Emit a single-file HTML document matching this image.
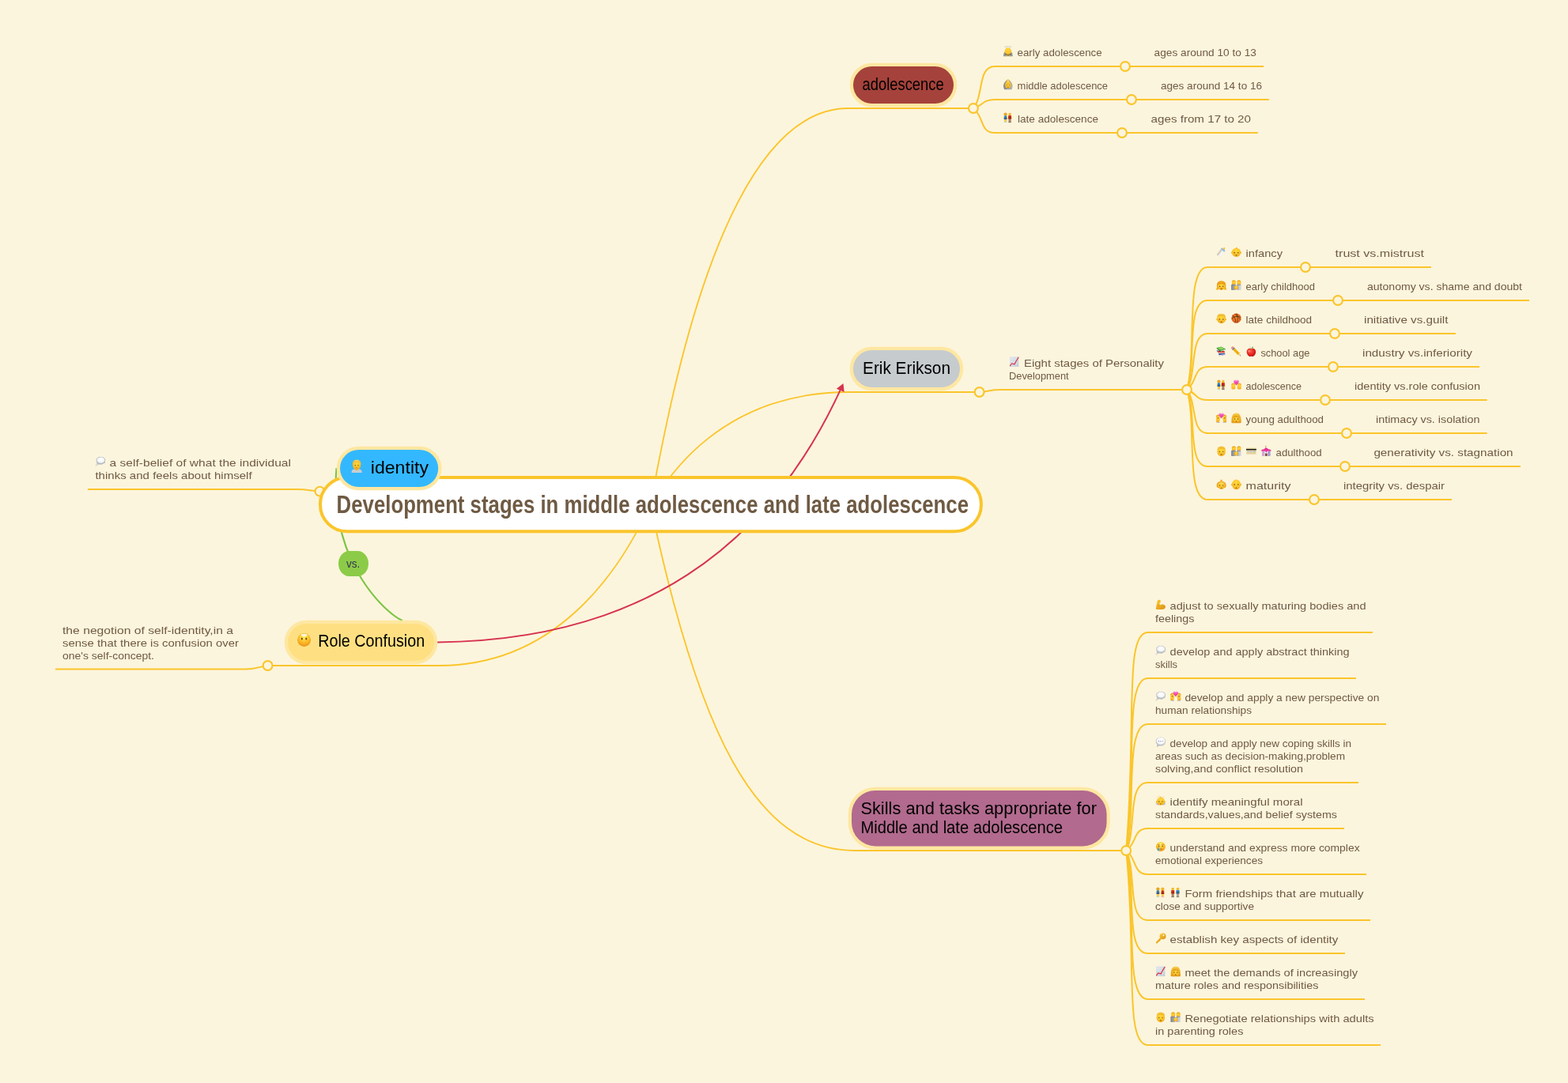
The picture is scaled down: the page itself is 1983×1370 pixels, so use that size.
<!DOCTYPE html>
<html lang="en">
<head>
<meta charset="utf-8">
<title>Development stages in middle adolescence and late adolescence</title>
<style>
html,body{margin:0;padding:0;background:#FCF5DD;}
body{width:1983px;height:1370px;overflow:hidden;}
svg{display:block;will-change:transform;}
text{font-family:"Liberation Sans",sans-serif;white-space:pre;}
.st{font-size:13px;fill:#705A43;}
.mt{font-size:22px;fill:#000;}
.ct{font-size:32px;font-weight:bold;fill:#6F5A43;}
.vs{font-size:14.5px;fill:#34344e;}
</style>
</head>
<body>
<svg width="1983" height="1370" viewBox="0 0 1983 1370" role="img" aria-label="Mind map: Development stages in middle adolescence and late adolescence">
<defs>
<radialGradient id="gf" cx="0.5" cy="0.32" r="0.75"><stop offset="0" stop-color="#FFDA3A"/><stop offset="0.55" stop-color="#FCC42A"/><stop offset="1" stop-color="#EFA41C"/></radialGradient>
<radialGradient id="gs" cx="0.5" cy="0.25" r="0.8"><stop offset="0" stop-color="#FFF06A"/><stop offset="0.5" stop-color="#FCC22B"/><stop offset="1" stop-color="#EE8F1B"/></radialGradient>
<linearGradient id="gh" x1="0" y1="0" x2="0" y2="1"><stop offset="0" stop-color="#F7C53A"/><stop offset="1" stop-color="#E39A1A"/></linearGradient>
<linearGradient id="gd" x1="0" y1="0" x2="1" y2="0"><stop offset="0" stop-color="#7E848B"/><stop offset="1" stop-color="#B4B8BC"/></linearGradient>
<linearGradient id="gl" x1="0" y1="0" x2="1" y2="0"><stop offset="0" stop-color="#A9AEB3"/><stop offset="1" stop-color="#E1E3E5"/></linearGradient>
<linearGradient id="gb" x1="0" y1="0" x2="0" y2="1"><stop offset="0" stop-color="#2A9BE8"/><stop offset="1" stop-color="#1B4FA6"/></linearGradient>
<linearGradient id="gr" x1="0" y1="0" x2="0" y2="1"><stop offset="0" stop-color="#E23A24"/><stop offset="1" stop-color="#8E1A1A"/></linearGradient>
<linearGradient id="gp" x1="0" y1="0" x2="0" y2="1"><stop offset="0" stop-color="#F9A8E0"/><stop offset="0.45" stop-color="#F04DB6"/><stop offset="1" stop-color="#E638A4"/></linearGradient>
<radialGradient id="ga" cx="0.4" cy="0.35" r="0.7"><stop offset="0" stop-color="#FF5A48"/><stop offset="0.6" stop-color="#E4241E"/><stop offset="1" stop-color="#B01218"/></radialGradient>
<radialGradient id="go" cx="0.55" cy="0.45" r="0.6"><stop offset="0" stop-color="#F98E30"/><stop offset="1" stop-color="#DD5A16"/></radialGradient>
<radialGradient id="gw" cx="0.5" cy="0.4" r="0.6"><stop offset="0" stop-color="#FFFFFF"/><stop offset="0.7" stop-color="#F4F5F6"/><stop offset="1" stop-color="#B9BEC4"/></radialGradient>
<linearGradient id="gk" x1="0" y1="0" x2="1" y2="1"><stop offset="0" stop-color="#FDCB2C"/><stop offset="1" stop-color="#D9901A"/></linearGradient>
<linearGradient id="gc" x1="0" y1="0" x2="1" y2="1"><stop offset="0" stop-color="#DCE6EF"/><stop offset="1" stop-color="#BFCBD6"/></linearGradient>
</defs>
<rect width="1983" height="1370" fill="#FCF5DD"/>
<g id="main-branches">
<path d="M822.5 638C841.1 548.4 906 137 1072.9 137" fill="none" stroke="#FAC52B" stroke-width="1.8"/>
<path d="M1072 137H1231" fill="none" stroke="#FAC52B" stroke-width="2"/>
<path d="M822.5 638C818.4 659.2 876.4 496 1073.6 496" fill="none" stroke="#FAC52B" stroke-width="1.8"/>
<path d="M1073 496H1239" fill="none" stroke="#FAC52B" stroke-width="2"/>
<path d="M822.5 638C881.9 920.7 954.1 1076 1080.8 1076" fill="none" stroke="#FAC52B" stroke-width="1.8"/>
<path d="M1080 1076H1424" fill="none" stroke="#FAC52B" stroke-width="2"/>
<path d="M822.5 638C782.9 725.4 702.4 842 555 842" fill="none" stroke="#FAC52B" stroke-width="1.8"/>
<path d="M556 842H339" fill="none" stroke="#FAC52B" stroke-width="2"/>
</g>
<g id="sub-branches">
<path d="M1230.9 137C1244.25 121.36 1236.11 84 1258 84H1598" fill="none" stroke="#FAC52B" stroke-width="2"/>
<path d="M1230.9 137C1244.25 133.75 1241.51 126 1258 126H1604.8" fill="none" stroke="#FAC52B" stroke-width="2"/>
<path d="M1230.9 137C1244.25 146.15 1238.93 168 1258 168H1590.8" fill="none" stroke="#FAC52B" stroke-width="2"/>
<path d="M1501 493C1513.96 447.27 1498.03 338 1527.3 338H1810" fill="none" stroke="#FAC52B" stroke-width="2"/>
<path d="M1501 493C1513.96 459.66 1498.57 380 1527.3 380H1934" fill="none" stroke="#FAC52B" stroke-width="2"/>
<path d="M1501 493C1513.96 472.06 1503.81 422 1527.3 422H1841" fill="none" stroke="#FAC52B" stroke-width="2"/>
<path d="M1501 493C1513.96 484.44 1509.05 464 1527.3 464H1871" fill="none" stroke="#FAC52B" stroke-width="2"/>
<path d="M1501 493C1513.96 496.83 1511.04 506 1527.3 506H1880.6" fill="none" stroke="#FAC52B" stroke-width="2"/>
<path d="M1501 493C1513.96 509.23 1505.8 548 1527.3 548H1880.6" fill="none" stroke="#FAC52B" stroke-width="2"/>
<path d="M1501 493C1513.96 521.62 1500.56 590 1527.3 590H1923" fill="none" stroke="#FAC52B" stroke-width="2"/>
<path d="M1501 493C1513.96 534 1498.03 632 1527.3 632H1836" fill="none" stroke="#FAC52B" stroke-width="2"/>
<path d="M1424.2 1076C1437.65 917.3 1421.12 800 1451.5 800H1736" fill="none" stroke="#FAC52B" stroke-width="2"/>
<path d="M1424.2 1076C1437.65 975.3 1421.12 858 1451.5 858H1715" fill="none" stroke="#FAC52B" stroke-width="2"/>
<path d="M1424.2 1076C1437.65 1028.8 1421.12 916 1451.5 916H1753" fill="none" stroke="#FAC52B" stroke-width="2"/>
<path d="M1424.2 1076C1437.65 1050.63 1425.17 990 1451.5 990H1718" fill="none" stroke="#FAC52B" stroke-width="2"/>
<path d="M1424.2 1076C1437.65 1067.74 1432.68 1048 1451.5 1048H1700" fill="none" stroke="#FAC52B" stroke-width="2"/>
<path d="M1424.2 1076C1437.65 1084.85 1432.42 1106 1451.5 1106H1728" fill="none" stroke="#FAC52B" stroke-width="2"/>
<path d="M1424.2 1076C1437.65 1101.96 1424.91 1164 1451.5 1164H1733" fill="none" stroke="#FAC52B" stroke-width="2"/>
<path d="M1424.2 1076C1437.65 1114.35 1421.12 1206 1451.5 1206H1701" fill="none" stroke="#FAC52B" stroke-width="2"/>
<path d="M1424.2 1076C1437.65 1146.7 1421.12 1264 1451.5 1264H1726" fill="none" stroke="#FAC52B" stroke-width="2"/>
<path d="M1424.2 1076C1437.65 1204.7 1421.12 1322 1451.5 1322H1746" fill="none" stroke="#FAC52B" stroke-width="2"/>
<path d="M1238.6 496C1252.1 495.12 1250.36 493 1266 493H1501" fill="none" stroke="#FAC52B" stroke-width="2"/>
<path d="M404.4 621.6C389.92 620.83 391.72 619 375 619H111" fill="none" stroke="#FAC52B" stroke-width="2"/>
<path d="M338.6 842C324.51 843.36 326.54 846.6 310 846.6H70" fill="none" stroke="#FAC52B" stroke-width="2"/>
</g>
<g id="relationships">
<path d="M425.5 592C415.7 715.1 492.3 778.7 509 785" fill="none" stroke="#7CC444" stroke-width="2.1"/>
<path d="M553 812.4C808 810.23 970.47 694.53 1063.15 492.4" fill="none" stroke="#D7334F" stroke-width="2"/>
<path d="M1066.5 485L1057.9 491.8L1067.7 496.1Z" fill="#D7334F"/>
</g>
<g id="joints">
<circle cx="1230.9" cy="137" r="5.9" fill="#FCF5DD" stroke="#FAC52B" stroke-width="2.1"/>
<circle cx="1238.6" cy="496" r="5.9" fill="#FCF5DD" stroke="#FAC52B" stroke-width="2.1"/>
<circle cx="1501" cy="493" r="5.9" fill="#FCF5DD" stroke="#FAC52B" stroke-width="2.1"/>
<circle cx="1424.2" cy="1076" r="5.9" fill="#FCF5DD" stroke="#FAC52B" stroke-width="2.1"/>
<circle cx="338.6" cy="842" r="5.9" fill="#FCF5DD" stroke="#FAC52B" stroke-width="2.1"/>
<circle cx="404.4" cy="621.6" r="5.9" fill="#FCF5DD" stroke="#FAC52B" stroke-width="2.1"/>
</g>
<g id="topics">
<g transform="translate(1268.4 58.3) scale(1.07)"><path d="M3.1 1.7L2.6 0.3M5 1.2L4.8 -0.2M7 1.2L7.2 -0.2M8.9 1.7L9.4 0.3" stroke="#A9AEB3" stroke-width="0.6" stroke-linecap="round"/><path d="M0.5 12 Q0.7 7.2 2.8 6.8 L9.2 6.8 Q11.3 7.2 11.5 12Z" fill="#8F969D"/><path d="M2.6 9.6 Q6 12.4 9.4 9.6 L8.6 8.6 H3.4Z" fill="#2b2b2b"/><ellipse cx="6" cy="6.2" rx="3.9" ry="4.2" fill="url(#gf)"/><path d="M3.4 12 Q3.6 10.4 5 10.6 L5.4 12Z M8.6 12 Q8.4 10.4 7 10.6 L6.6 12Z" fill="#F6BE2C"/></g>
<text class="st" x="1286.6" y="71.2" textLength="107" lengthAdjust="spacingAndGlyphs">early adolescence</text>
<circle cx="1423" cy="84" r="5.9" fill="#FCF5DD" stroke="#FAC52B" stroke-width="2.1"/>
<text class="st" x="1459.6" y="71.2" textLength="129.4" lengthAdjust="spacingAndGlyphs">ages around 10 to 13</text>
<g transform="translate(1268.4 100.3) scale(1.07)"><path d="M1.6 12 Q-0.6 7 2 3.6 Q4 0.6 6 0.4 Q8 0.6 10 3.6 Q12.6 7 10.4 12Z" fill="url(#gd)"/><path d="M4.2 3.6 Q4 0.2 6 0.2 Q8 0.2 7.8 3.6Z" fill="#F2B428"/><circle cx="6" cy="2.3" r="0.9" fill="#FBF0D0"/><ellipse cx="6" cy="6.8" rx="3.5" ry="4" fill="url(#gf)"/><path d="M2.8 5.8 Q6 3.4 9.2 5.8 Q6 5 2.8 5.8Z" fill="#DFA024"/><circle cx="4.7" cy="6.9" r="0.5" fill="#5E4426"/><circle cx="7.3" cy="6.9" r="0.5" fill="#5E4426"/><path d="M5.2 9.4 Q6 8.299999999999999 6.8 9.4 Q6 9.75 5.2 9.4Z" fill="#5A3A12"/></g>
<text class="st" x="1286.6" y="113.2" textLength="114.4" lengthAdjust="spacingAndGlyphs">middle adolescence</text>
<circle cx="1431" cy="126" r="5.9" fill="#FCF5DD" stroke="#FAC52B" stroke-width="2.1"/>
<text class="st" x="1468" y="113.2" textLength="128" lengthAdjust="spacingAndGlyphs">ages around 14 to 16</text>
<g transform="translate(1268.4 142.3) scale(1.07)"><path d="M1.6 4.2 L1.0 7.4 M4.4 4.2 L5.0 7.4" stroke="#F7C132" stroke-width="0.9" stroke-linecap="round" fill="none"/><rect x="1.55" y="7.4" width="2.9" height="4" fill="#F6C84A"/><rect x="1.35" y="11.2" width="3.3" height="0.75" fill="#A9D6EC"/><path d="M1.8 3.5 H4.2 L4.7 8.2 H1.3Z" fill="url(#gb)"/><ellipse cx="3.0" cy="2.1" rx="2" ry="1.9" fill="#E9A526"/><path d="M6.7 4.2 L6.1 7.4 M9.5 4.2 L10.1 7.4" stroke="#F7C132" stroke-width="0.9" stroke-linecap="round" fill="none"/><rect x="6.65" y="7.4" width="2.9" height="4" fill="#A88466"/><rect x="6.45" y="11.2" width="3.3" height="0.75" fill="#6E5A4E"/><rect x="6.3" y="3.4" width="3.6" height="4.3" rx="0.5" fill="url(#gr)"/><ellipse cx="8.1" cy="2" rx="1.65" ry="1.65" fill="#F2B826"/></g>
<text class="st" x="1287" y="155.2" textLength="102" lengthAdjust="spacingAndGlyphs">late adolescence</text>
<circle cx="1419" cy="168" r="5.9" fill="#FCF5DD" stroke="#FAC52B" stroke-width="2.1"/>
<text class="st" x="1455.6" y="155.2" textLength="126.4" lengthAdjust="spacingAndGlyphs">ages from 17 to 20</text>
<g transform="translate(1538.2 312.3) scale(1.07)"><g transform="rotate(38 6 6)"><rect x="3.4" y="3.6" width="5.2" height="8.6" rx="1.3" fill="#E9EAEC"/><rect x="3.4" y="3.6" width="2" height="8.6" rx="1" fill="#D8CDB4"/><rect x="6.8" y="4.4" width="1.4" height="7" rx="0.7" fill="#FAFAFA"/><rect x="3.2" y="1.8" width="5.6" height="2.1" rx="0.7" fill="#8FBBE4"/><path d="M4.6 1.9 Q4.8 0 6 -0.9 Q7.2 0 7.4 1.9Z" fill="#F6BE36"/></g></g>
<g transform="translate(1557.1 312.3) scale(1.07)"><circle cx="0.9" cy="6.9" r="1.05" fill="#F5B428"/><circle cx="11.1" cy="6.9" r="1.05" fill="#F5B428"/><circle cx="6" cy="6.6" r="5.3" fill="url(#gf)"/><path d="M5.2 1.6 Q6.4 -0.3 7.4 1 Q6.6 1.1 6.6 2Z" fill="#F2AE22"/><circle cx="3.9" cy="6.9" r="0.72" fill="#5E4426"/><circle cx="8.1" cy="6.9" r="0.72" fill="#5E4426"/><path d="M4.7 10.049999999999999 Q5.95 8.399999999999999 7.2 10.049999999999999 Q5.95 10.575 4.7 10.049999999999999Z" fill="#5A3A12"/></g>
<text class="st" x="1575.6" y="325.2" textLength="46.4" lengthAdjust="spacingAndGlyphs">infancy</text>
<circle cx="1651" cy="338" r="5.9" fill="#FCF5DD" stroke="#FAC52B" stroke-width="2.1"/>
<text class="st" x="1688.6" y="325.2" textLength="112.4" lengthAdjust="spacingAndGlyphs">trust vs.mistrust</text>
<g transform="translate(1538.2 354.3) scale(1.07)"><path d="M0.6 7.4 Q0 1 6 0.8 Q12 1 11.4 7.4 Q11.4 9 10.6 9.6 L1.4 9.6 Q0.6 9 0.6 7.4Z" fill="#EDA21C"/><circle cx="1.3" cy="10.4" r="1.35" fill="#F2B122"/><circle cx="10.7" cy="10.4" r="1.35" fill="#F2B122"/><circle cx="6" cy="7.3" r="4.5" fill="url(#gf)"/><path d="M1.6 6 Q3 2.2 6 3.2 Q9 2.2 10.4 6 Q8.4 4.4 6 4.6 Q3.6 4.4 1.6 6Z" fill="#E59A1A"/><circle cx="4.1" cy="7.4" r="0.7" fill="#5E4426"/><circle cx="7.9" cy="7.4" r="0.7" fill="#5E4426"/><path d="M4.7 10.32 Q6 8.780000000000001 7.3 10.32 Q6 10.81 4.7 10.32Z" fill="#5A3A12"/></g>
<g transform="translate(1557.1 354.3) scale(1.07)"><rect x="0" y="5.1" width="5.5" height="6.7" rx="0.6" fill="url(#gd)"/><rect x="6.6" y="5.1" width="5.4" height="6.7" rx="0.6" fill="url(#gl)"/><path d="M0.8 5.1 H5 V5.8 H0.8Z M7 5.1 H11.2 V5.8 H7Z" fill="#5D6670"/><rect x="0.8" y="0.3" width="4.5" height="4.9" rx="1.6" fill="url(#gf)"/><rect x="6.9" y="0.3" width="4.5" height="4.9" rx="1.6" fill="url(#gf)"/><path d="M0.9 1.8 Q1 0.2 3 0.2 Q5.2 0.2 5.2 1.8 Q3 1 0.9 1.8Z M7 1.8 Q7 0.2 9.2 0.2 Q11.3 0.2 11.3 1.8 Q9.2 1 7 1.8Z" fill="#E7A322"/><circle cx="5.9" cy="8.8" r="2.35" fill="#E9A41E"/><circle cx="5.9" cy="8.9" r="1.9" fill="url(#gf)"/></g>
<text class="st" x="1575.6" y="367.2" textLength="87.4" lengthAdjust="spacingAndGlyphs">early childhood</text>
<circle cx="1692" cy="380" r="5.9" fill="#FCF5DD" stroke="#FAC52B" stroke-width="2.1"/>
<text class="st" x="1729" y="367.2" textLength="196" lengthAdjust="spacingAndGlyphs">autonomy vs. shame and doubt</text>
<g transform="translate(1538.2 396.3) scale(1.07)"><circle cx="0.9" cy="7.2" r="1" fill="#F5B428"/><circle cx="11.1" cy="7.2" r="1" fill="#F5B428"/><ellipse cx="6" cy="6.7" rx="5.2" ry="5.4" fill="url(#gf)"/><path d="M0.9 6.2 Q0.4 0.6 6 0.5 Q11.6 0.6 11.1 6.2 Q10.4 3.8 8.6 3.4 Q6 4.4 3 3.2 Q1.4 4 0.9 6.2Z" fill="#F3BC30"/><path d="M3 1.4 Q6 0 9 1.4 Q6 0.9 3 1.4Z" fill="#FBE08A"/><circle cx="3.9" cy="7.1" r="0.72" fill="#5E4426"/><circle cx="8.1" cy="7.1" r="0.72" fill="#5E4426"/><path d="M4.75 10.25 Q6 8.600000000000001 7.25 10.25 Q6 10.775 4.75 10.25Z" fill="#5A3A12"/></g>
<g transform="translate(1557.1 396.3) scale(1.07)"><circle cx="6" cy="5.9" r="5.7" fill="url(#go)"/><path d="M1.4 2.6 Q6.4 5.4 4.6 11.4 M4.6 0.4 Q9 4.6 7 11.5 M0.4 6.6 Q5 2 11.4 4.6 M6.4 0.3 Q7 4.4 11.2 7.8" stroke="#2A1A10" stroke-width="0.55" fill="none"/></g>
<text class="st" x="1575.6" y="409.2" textLength="83.4" lengthAdjust="spacingAndGlyphs">late childhood</text>
<circle cx="1688" cy="422" r="5.9" fill="#FCF5DD" stroke="#FAC52B" stroke-width="2.1"/>
<text class="st" x="1725" y="409.2" textLength="106.4" lengthAdjust="spacingAndGlyphs">initiative vs.guilt</text>
<g transform="translate(1538.2 438.3) scale(1.07)"><path d="M2.6 8.2 L10.2 7.6 L10.4 10 L3.6 11.2Z" fill="#3C4FA0"/><path d="M3.6 9.9 L10.3 9 L10.4 10 L3.6 11.2Z" fill="#E4E8EE"/><path d="M1.6 4.8 L9.8 5.6 L10 8 L2.2 7.8Z" fill="#D9211E"/><path d="M2.2 7 L10 7.2 L10 8 L2.2 7.8Z" fill="#F0F0EC"/><path d="M0.4 4.4 Q0.2 5.8 1.8 6.4 L2 5Z" fill="#2F5FB8"/><path d="M0.4 1.6 L5.6 0.3 L10.8 2.8 L5.4 5.2Z" fill="#45A83C"/><path d="M1.4 1.7 L5.6 0.6 L9.6 2.6 L5.6 4Z" fill="#8FD65E"/><path d="M0.4 1.6 L5.4 5.2 L10.8 2.8 L10.6 4 L5.4 6.4 L0.6 2.8Z" fill="#2E7D32"/><path d="M5.6 5.4 L10.4 3.3 L10.4 3.9 L5.6 6Z" fill="#EDEDE8"/></g>
<g transform="translate(1557.1 438.3) scale(1.07)"><g transform="rotate(-45 6 6)"><rect x="4.3" y="-1.6" width="3.4" height="2.3" rx="1.2" fill="#EE8796"/><rect x="4.3" y="0.6" width="3.4" height="1.5" fill="#7E96B2"/><rect x="4.3" y="1.1" width="3.4" height="0.5" fill="#4A4A4A"/><rect x="4.3" y="2.1" width="3.4" height="8.2" fill="#F7BC1E"/><rect x="5.4" y="2.1" width="1.2" height="8.2" fill="#E9A314"/><path d="M4.3 10.3 H7.7 L6 13.6Z" fill="#F1D9A8"/><path d="M5.4 12.4 H6.6 L6 13.6Z" fill="#6A6A6A"/></g></g>
<g transform="translate(1576 438.3) scale(1.07)"><path d="M6 2.9 Q3.2 1.5 1.5 3.6 Q-0.2 6 1.4 9.4 Q2.8 12.2 4.4 11.9 Q6 11.4 7.6 11.9 Q9.2 12.2 10.6 9.4 Q12.2 6 10.5 3.6 Q8.8 1.5 6 2.9Z" fill="url(#ga)"/><ellipse cx="3.4" cy="5.4" rx="1.1" ry="1.5" fill="#FF9C92" opacity="0.75"/><path d="M5.8 3 Q5.4 1.4 4.2 0.7" stroke="#9A7A52" stroke-width="0.6" fill="none"/><path d="M5.9 2.9 Q6.4 0.6 8.6 0 Q8.6 2.2 5.9 2.9Z" fill="#58B23C"/></g>
<text class="st" x="1594.4" y="451.2" textLength="62" lengthAdjust="spacingAndGlyphs">school age</text>
<circle cx="1686" cy="464" r="5.9" fill="#FCF5DD" stroke="#FAC52B" stroke-width="2.1"/>
<text class="st" x="1723" y="451.2" textLength="139" lengthAdjust="spacingAndGlyphs">industry vs.inferiority</text>
<g transform="translate(1538.2 480.3) scale(1.07)"><path d="M1.6 4.2 L1.0 7.4 M4.4 4.2 L5.0 7.4" stroke="#F7C132" stroke-width="0.9" stroke-linecap="round" fill="none"/><rect x="1.55" y="7.4" width="2.9" height="4" fill="#F6C84A"/><rect x="1.35" y="11.2" width="3.3" height="0.75" fill="#A9D6EC"/><path d="M1.8 3.5 H4.2 L4.7 8.2 H1.3Z" fill="url(#gb)"/><ellipse cx="3.0" cy="2.1" rx="2" ry="1.9" fill="#E9A526"/><path d="M6.7 4.2 L6.1 7.4 M9.5 4.2 L10.1 7.4" stroke="#F7C132" stroke-width="0.9" stroke-linecap="round" fill="none"/><rect x="6.65" y="7.4" width="2.9" height="4" fill="#A88466"/><rect x="6.45" y="11.2" width="3.3" height="0.75" fill="#6E5A4E"/><rect x="6.3" y="3.4" width="3.6" height="4.3" rx="0.5" fill="url(#gr)"/><ellipse cx="8.1" cy="2" rx="1.65" ry="1.65" fill="#F2B826"/></g>
<g transform="translate(1557.1 480.3) scale(1.07)"><rect x="0.3" y="4.2" width="4.4" height="7.3" rx="1.5" fill="url(#gf)"/><rect x="7.3" y="4.2" width="4.4" height="7.3" rx="1.5" fill="url(#gf)"/><path d="M0.4 5.4 Q2.4 4 4.6 5.2 M7.4 5.2 Q9.6 4 11.6 5.4" stroke="#D9901A" stroke-width="0.6" fill="none"/><path d="M0.8 2.4 Q1 3.2 1.6 3.6 M11.2 2.4 Q11 3.2 10.4 3.6" stroke="#F8E3A6" stroke-width="0.5" fill="none"/><path d="M6 6.8 L3.2 3.5 Q2.1 0.6 4.4 0.1 Q5.6 0 6 1.2 Q6.4 0 7.6 0.1 Q9.9 0.6 8.8 3.5Z" fill="url(#gp)"/></g>
<text class="st" x="1575.6" y="493.2" textLength="70.4" lengthAdjust="spacingAndGlyphs">adolescence</text>
<circle cx="1676" cy="506" r="5.9" fill="#FCF5DD" stroke="#FAC52B" stroke-width="2.1"/>
<text class="st" x="1713" y="493.2" textLength="159" lengthAdjust="spacingAndGlyphs">identity vs.role confusion</text>
<g transform="translate(1538.2 522.3) scale(1.07)"><path d="M0 11.9 Q0.2 10.2 2.4 10.2 L5 11.9Z M12 11.9 Q11.8 10.2 9.6 10.2 L7 11.9Z" fill="#BFC3C6"/><path d="M0 3.4 Q1.4 1.8 3.6 2.6 L4.4 6.4 L3.6 10.6 Q1.4 11.2 0 10.6Z" fill="url(#gf)"/><path d="M12 3.4 Q10.6 1.8 8.4 2.6 L7.6 6.4 L8.4 10.6 Q10.6 11.2 12 10.6Z" fill="url(#gf)"/><path d="M0 3.6 Q1.6 1 4 2.6 Q2 3 0 4.8Z M12 3.6 Q10.4 1 8 2.6 Q10 3 12 4.8Z" fill="#E79E1C"/><ellipse cx="2.1" cy="6" rx="0.8" ry="0.55" fill="#4A3418"/><ellipse cx="9.9" cy="6" rx="0.8" ry="0.55" fill="#4A3418"/><path d="M6 6.6 L3.3 3.4 Q2.2 0.6 4.4 0.1 Q5.6 0 6 1.2 Q6.4 0 7.6 0.1 Q9.8 0.6 8.7 3.4Z" fill="url(#gp)"/></g>
<g transform="translate(1557.1 522.3) scale(1.07)"><path d="M0.3 11.8 Q-0.3 0.4 6 0.3 Q12.3 0.4 11.7 11.8 Q9 12.2 6 12 Q3 12.2 0.3 11.8Z" fill="url(#gh)"/><path d="M3.2 1.6 Q6 0.3 8.8 1.6 Q6 1 3.2 1.6Z" fill="#FBE7A6"/><circle cx="6" cy="7.5" r="3.9" fill="url(#gf)"/><path d="M2.2 6.4 Q3 3 6.4 3.6 Q9.2 3.4 9.9 6.4 Q8 4.6 5.6 5 Q3.6 5 2.2 6.4Z" fill="#E59A1A"/><circle cx="4.2" cy="7.2" r="0.62" fill="#5E4426"/><circle cx="7.9" cy="7.2" r="0.62" fill="#5E4426"/><path d="M4.95 10.26 Q6 8.940000000000001 7.05 10.26 Q6 10.68 4.95 10.26Z" fill="#5A3A12"/></g>
<text class="st" x="1575.6" y="535.2" textLength="98.4" lengthAdjust="spacingAndGlyphs">young adulthood</text>
<circle cx="1703" cy="548" r="5.9" fill="#FCF5DD" stroke="#FAC52B" stroke-width="2.1"/>
<text class="st" x="1740" y="535.2" textLength="131.4" lengthAdjust="spacingAndGlyphs">intimacy vs. isolation</text>
<g transform="translate(1538.2 564.3) scale(1.07)"><ellipse cx="6" cy="6.6" rx="4.9" ry="5.5" fill="url(#gf)"/><path d="M1.2 5.6 Q0.8 0.4 6 0.3 Q11.2 0.4 10.8 5.6 Q10 3.4 8.4 3.2 Q5.6 3.8 3.2 2.8 Q1.8 3.6 1.2 5.6Z" fill="#F3BC30"/><path d="M3.2 1.2 Q6 0 8.8 1.2 Q6 0.8 3.2 1.2Z" fill="#FBE08A"/><circle cx="4" cy="6.6" r="0.66" fill="#5E4426"/><circle cx="8" cy="6.6" r="0.66" fill="#5E4426"/><path d="M4.7 10.059999999999999 Q6 8.739999999999998 7.3 10.059999999999999 Q6 10.479999999999999 4.7 10.059999999999999Z" fill="#5A3A12"/></g>
<g transform="translate(1557.1 564.3) scale(1.07)"><rect x="0" y="5.1" width="5.5" height="6.7" rx="0.6" fill="url(#gd)"/><rect x="6.6" y="5.1" width="5.4" height="6.7" rx="0.6" fill="url(#gl)"/><path d="M0.8 5.1 H5 V5.8 H0.8Z M7 5.1 H11.2 V5.8 H7Z" fill="#5D6670"/><rect x="0.8" y="0.3" width="4.5" height="4.9" rx="1.6" fill="url(#gf)"/><rect x="6.9" y="0.3" width="4.5" height="4.9" rx="1.6" fill="url(#gf)"/><path d="M0.9 1.8 Q1 0.2 3 0.2 Q5.2 0.2 5.2 1.8 Q3 1 0.9 1.8Z M7 1.8 Q7 0.2 9.2 0.2 Q11.3 0.2 11.3 1.8 Q9.2 1 7 1.8Z" fill="#E7A322"/><circle cx="5.9" cy="8.8" r="2.35" fill="#E9A41E"/><circle cx="5.9" cy="8.9" r="1.9" fill="url(#gf)"/></g>
<g transform="translate(1576 564.3) scale(1.07)"><rect x="0" y="2" width="12" height="7.9" rx="0.9" fill="#EFE2B0"/><rect x="0" y="2" width="12" height="1.2" rx="0.6" fill="#F6E9A8"/><rect x="0" y="3.3" width="12" height="1.5" fill="#161616"/><rect x="1" y="6" width="7" height="0.9" fill="#A9B6D0"/><rect x="8.6" y="6" width="2.4" height="0.9" fill="#8E9AB8"/><rect x="0.6" y="7.6" width="10.8" height="1.6" fill="#E4CFA0"/></g>
<g transform="translate(1594.9 564.3) scale(1.07)"><rect x="0.9" y="5.4" width="10.2" height="6.4" fill="#EDEDF2"/><rect x="1.1" y="5.6" width="1.2" height="6.2" fill="#E68AC8"/><rect x="2.7" y="5.6" width="1" height="6.2" fill="#A58AD6"/><rect x="8.2" y="5.6" width="1" height="6.2" fill="#5E7AB8"/><rect x="9.6" y="5.6" width="1.3" height="6.2" fill="#B58AD6"/><path d="M0 5.8 Q0.4 3.6 3.4 3.6 L5.2 2 L6.8 2 L8.6 3.6 Q11.6 3.6 12 5.8Z" fill="#EA2F98"/><path d="M6 7.6 L4.4 5.6 Q4 4.2 5.2 4.2 Q5.8 4.2 6 4.9 Q6.2 4.2 6.8 4.2 Q8 4.2 7.6 5.6Z" fill="#F0389E"/><rect x="4.7" y="8.6" width="2.6" height="3.2" fill="#8A4A32"/><path d="M5.2 2.2 V-0.4" stroke="#8A6A4A" stroke-width="0.4"/><path d="M5.2 -0.4 L6.8 0.1 L5.2 0.7Z" fill="#E8903A"/></g>
<text class="st" x="1613.6" y="577.2" textLength="58" lengthAdjust="spacingAndGlyphs">adulthood</text>
<circle cx="1701" cy="590" r="5.9" fill="#FCF5DD" stroke="#FAC52B" stroke-width="2.1"/>
<text class="st" x="1737.4" y="577.2" textLength="176.2" lengthAdjust="spacingAndGlyphs">generativity vs. stagnation</text>
<g transform="translate(1538.2 606.3) scale(1.07)"><path d="M0.4 8 Q0 2.6 6 2.6 Q12 2.6 11.6 8 Q11.4 9.6 10.4 10 L1.6 10 Q0.6 9.6 0.4 8Z" fill="#E9A31E"/><path d="M4.2 1.6 Q6 -0.6 7.8 1.6 Q6.8 1.7 6.6 2.8 H5.4 Q5.2 1.7 4.2 1.6Z" fill="#F2B428"/><circle cx="6" cy="7.5" r="4.3" fill="url(#gf)"/><path d="M1.8 6.4 Q3.4 3.4 6 3.8 Q8.6 3.4 10.2 6.4 Q8.2 5 6 5.2 Q3.8 5 1.8 6.4Z" fill="#F7D36A"/><circle cx="4.1" cy="7.3" r="0.62" fill="#5E4426"/><circle cx="7.9" cy="7.3" r="0.62" fill="#5E4426"/><circle cx="4.1" cy="7.3" r="1.15" fill="none" stroke="#C9A64A" stroke-width="0.3"/><circle cx="7.9" cy="7.3" r="1.15" fill="none" stroke="#C9A64A" stroke-width="0.3"/><path d="M4.75 10.36 Q6 9.04 7.25 10.36 Q6 10.78 4.75 10.36Z" fill="#5A3A12"/></g>
<g transform="translate(1557.1 606.3) scale(1.07)"><ellipse cx="0.9" cy="6.4" rx="0.8" ry="1.2" fill="#F0AE24"/><ellipse cx="11.1" cy="6.4" rx="0.8" ry="1.2" fill="#F0AE24"/><ellipse cx="6" cy="6.2" rx="5.1" ry="5.9" fill="url(#gf)"/><path d="M3.4 1.4 Q6 0.2 8.6 1.4 Q6 0.9 3.4 1.4Z" fill="#FCE38E"/><circle cx="3.9" cy="6.2" r="0.72" fill="#5E4426"/><circle cx="8.1" cy="6.2" r="0.72" fill="#5E4426"/><path d="M5.0 10.26 Q6 8.940000000000001 7.0 10.26 Q6 10.68 5.0 10.26Z" fill="#5A3A12"/></g>
<text class="st" x="1575.6" y="619.2" textLength="57" lengthAdjust="spacingAndGlyphs">maturity</text>
<circle cx="1662" cy="632" r="5.9" fill="#FCF5DD" stroke="#FAC52B" stroke-width="2.1"/>
<text class="st" x="1699" y="619.2" textLength="128" lengthAdjust="spacingAndGlyphs">integrity vs. despair</text>
<g transform="translate(1461.5 758.3) scale(1.07)"><path d="M0.4 11.6 Q0.2 8.6 1.2 6 L2.2 1.4 Q3.4 -0.2 5.4 0.6 Q6.2 1.6 5.6 3.4 L4.6 4 L5 6.6 Q8 5.2 10.4 6.4 Q12.4 8 11.2 10.4 Q9 12.2 5.4 11.8 Q2.4 12.2 0.4 11.6Z" fill="url(#gk)"/><path d="M3 6.2 Q3.6 8 3 9.4" stroke="#D58E18" stroke-width="0.5" fill="none"/><path d="M4.8 4 L6.4 5.2" stroke="#FDF0CE" stroke-width="0.7"/></g>
<text class="st" x="1479.6" y="771.2" textLength="248" lengthAdjust="spacingAndGlyphs">adjust to sexually maturing bodies and</text>
<text class="st" x="1461" y="787.2" textLength="49.4" lengthAdjust="spacingAndGlyphs">feelings</text>
<g transform="translate(1461.5 816.3) scale(1.07)"><circle cx="0.7" cy="10.6" r="0.7" fill="#BFC4CA"/><circle cx="2.4" cy="9" r="1.3" fill="#C9CED3"/><path d="M1 5.2 Q0 2.6 2.6 1.8 Q3.6 -0.2 6 0.7 Q8.4 -0.4 9.8 1.6 Q12.4 2.6 11.4 5.4 Q12 8.2 9.2 8.6 Q7.4 10.4 5.4 9.2 Q2.6 10 1.8 7.8 Q0.4 6.8 1 5.2Z" fill="#B4BAC1"/><path d="M1.6 4.8 Q0.8 2.8 3 2.2 Q4 0.4 6.1 1.2 Q8.2 0.2 9.4 2 Q11.6 2.8 10.8 5 Q11.2 7.2 9 7.6 Q7.4 9 5.6 8 Q3.2 8.6 2.4 6.8 Q1.2 6 1.6 4.8Z" fill="url(#gw)"/></g>
<text class="st" x="1479.6" y="829.2" textLength="227" lengthAdjust="spacingAndGlyphs">develop and apply abstract thinking</text>
<text class="st" x="1461" y="845.2" textLength="28" lengthAdjust="spacingAndGlyphs">skills</text>
<g transform="translate(1461.5 874.3) scale(1.07)"><circle cx="0.7" cy="10.6" r="0.7" fill="#BFC4CA"/><circle cx="2.4" cy="9" r="1.3" fill="#C9CED3"/><path d="M1 5.2 Q0 2.6 2.6 1.8 Q3.6 -0.2 6 0.7 Q8.4 -0.4 9.8 1.6 Q12.4 2.6 11.4 5.4 Q12 8.2 9.2 8.6 Q7.4 10.4 5.4 9.2 Q2.6 10 1.8 7.8 Q0.4 6.8 1 5.2Z" fill="#B4BAC1"/><path d="M1.6 4.8 Q0.8 2.8 3 2.2 Q4 0.4 6.1 1.2 Q8.2 0.2 9.4 2 Q11.6 2.8 10.8 5 Q11.2 7.2 9 7.6 Q7.4 9 5.6 8 Q3.2 8.6 2.4 6.8 Q1.2 6 1.6 4.8Z" fill="url(#gw)"/></g>
<g transform="translate(1480.4 874.3) scale(1.07)"><path d="M0 11.9 Q0.2 10.2 2.4 10.2 L5 11.9Z M12 11.9 Q11.8 10.2 9.6 10.2 L7 11.9Z" fill="#BFC3C6"/><path d="M0 3.4 Q1.4 1.8 3.6 2.6 L4.4 6.4 L3.6 10.6 Q1.4 11.2 0 10.6Z" fill="url(#gf)"/><path d="M12 3.4 Q10.6 1.8 8.4 2.6 L7.6 6.4 L8.4 10.6 Q10.6 11.2 12 10.6Z" fill="url(#gf)"/><path d="M0 3.6 Q1.6 1 4 2.6 Q2 3 0 4.8Z M12 3.6 Q10.4 1 8 2.6 Q10 3 12 4.8Z" fill="#E79E1C"/><ellipse cx="2.1" cy="6" rx="0.8" ry="0.55" fill="#4A3418"/><ellipse cx="9.9" cy="6" rx="0.8" ry="0.55" fill="#4A3418"/><path d="M6 6.6 L3.3 3.4 Q2.2 0.6 4.4 0.1 Q5.6 0 6 1.2 Q6.4 0 7.6 0.1 Q9.8 0.6 8.7 3.4Z" fill="url(#gp)"/></g>
<text class="st" x="1498.4" y="887.2" textLength="246" lengthAdjust="spacingAndGlyphs">develop and apply a new perspective on</text>
<text class="st" x="1461" y="903.2" textLength="122" lengthAdjust="spacingAndGlyphs">human relationships</text>
<g transform="translate(1461.5 932.3) scale(1.07)"><path d="M1.4 12 L2.2 8.4 L5.6 9.8 Q3 10.4 1.4 12Z" fill="#AEB5BC"/><ellipse cx="6" cy="5.3" rx="5.9" ry="5.2" fill="#B9BFC6"/><ellipse cx="6.1" cy="5.1" rx="5.4" ry="4.7" fill="url(#gw)"/><circle cx="3.7" cy="5" r="0.62" fill="#7E8389"/><circle cx="6" cy="5" r="0.62" fill="#7E8389"/><circle cx="8.3" cy="5" r="0.62" fill="#9EA3A9"/></g>
<text class="st" x="1479.6" y="945.2" textLength="229.4" lengthAdjust="spacingAndGlyphs">develop and apply new coping skills in</text>
<text class="st" x="1461" y="961.2" textLength="240" lengthAdjust="spacingAndGlyphs">areas such as decision-making,problem</text>
<text class="st" x="1461" y="977.2" textLength="187" lengthAdjust="spacingAndGlyphs">solving,and conflict resolution</text>
<g transform="translate(1461.5 1006.3) scale(1.07)"><path d="M0 9.4 Q0.6 8.4 2.6 8.8 L4 11.6 Q1 12 0 9.4Z M12 9.4 Q11.4 8.4 9.4 8.8 L8 11.6 Q11 12 12 9.4Z" fill="#B9C2CE"/><path d="M2.4 1.4 L3.6 2.4 M9.6 1.4 L8.4 2.4 M4.6 0.6 L5.2 1.8" stroke="#F3BE3A" stroke-width="0.6" stroke-linecap="round"/><circle cx="1.2" cy="7.4" r="0.9" fill="#F3B42A"/><circle cx="10.8" cy="7.4" r="0.9" fill="#F3B42A"/><circle cx="6" cy="7" r="4.7" fill="url(#gf)"/><path d="M5.2 2.4 Q6.2 0.8 7.2 2 Q6.4 2 6.4 2.8Z" fill="#E89E1C"/><circle cx="4.1" cy="7.2" r="0.62" fill="#5E4426"/><circle cx="7.9" cy="7.2" r="0.62" fill="#5E4426"/><path d="M5.1 10.059999999999999 Q6 8.739999999999998 6.9 10.059999999999999 Q6 10.479999999999999 5.1 10.059999999999999Z" fill="#5A3A12"/></g>
<text class="st" x="1479.6" y="1019.2" textLength="168" lengthAdjust="spacingAndGlyphs">identify meaningful moral</text>
<text class="st" x="1461" y="1035.2" textLength="230" lengthAdjust="spacingAndGlyphs">standards,values,and belief systems</text>
<g transform="translate(1461.5 1064.3) scale(1.07)"><circle cx="6" cy="6.2" r="5.6" fill="url(#gs)"/><path d="M2.4 4 Q3.6 3.2 4.8 4.2 M7.2 4.2 Q8.4 3.2 9.6 4" stroke="#8A5A1A" stroke-width="0.55" fill="none"/><ellipse cx="3.9" cy="5.7" rx="0.6" ry="0.8" fill="#6B4A1E"/><ellipse cx="8.1" cy="5.7" rx="0.6" ry="0.8" fill="#6B4A1E"/><path d="M5 9.4 Q6.4 8.6 7.8 9.4" stroke="#6B4A1E" stroke-width="0.6" fill="none"/><path d="M3.2 6.8 Q1.6 10 2.4 11 Q3.4 11.8 4.2 11 Q4.8 10 3.2 6.8Z" fill="#35A8F0"/></g>
<text class="st" x="1479.6" y="1077.2" textLength="240" lengthAdjust="spacingAndGlyphs">understand and express more complex</text>
<text class="st" x="1461" y="1093.2" textLength="136" lengthAdjust="spacingAndGlyphs">emotional experiences</text>
<g transform="translate(1461.5 1122.3) scale(1.07)"><path d="M1.2999999999999998 4.2 L0.7 7.4 M4.1 4.2 L4.699999999999999 7.4" stroke="#F7C132" stroke-width="0.9" stroke-linecap="round" fill="none"/><rect x="1.25" y="7.4" width="2.9" height="4" fill="#F6C84A"/><rect x="1.05" y="11.2" width="3.3" height="0.75" fill="#A9D6EC"/><path d="M1.5 3.5 H3.9 L4.3999999999999995 8.2 H1.0Z" fill="url(#gb)"/><ellipse cx="2.7" cy="2.1" rx="2" ry="1.9" fill="#E9A526"/><path d="M6.9 4.2 L6.3 7.4 M9.7 4.2 L10.3 7.4" stroke="#F7C132" stroke-width="0.9" stroke-linecap="round" fill="none"/><rect x="6.8500000000000005" y="7.4" width="2.9" height="4" fill="#F6C84A"/><rect x="6.65" y="11.2" width="3.3" height="0.75" fill="#F0A0B0"/><path d="M7.1000000000000005 3.5 H9.5 L10.0 8.2 H6.6000000000000005Z" fill="url(#gr)"/><ellipse cx="8.3" cy="2.1" rx="2" ry="1.9" fill="#F2B826"/></g>
<g transform="translate(1480.4 1122.3) scale(1.07)"><path d="M1.2 4.2 L0.6 7.4 M4.0 4.2 L4.6 7.4" stroke="#F7C132" stroke-width="0.9" stroke-linecap="round" fill="none"/><rect x="1.15" y="7.4" width="2.9" height="4" fill="#A88466"/><rect x="0.95" y="11.2" width="3.3" height="0.75" fill="#6E5A4E"/><rect x="0.8" y="3.4" width="3.6" height="4.3" rx="0.5" fill="url(#gr)"/><ellipse cx="2.6" cy="2" rx="1.65" ry="1.65" fill="#F2B826"/><path d="M7.1000000000000005 4.2 L6.5 7.4 M9.9 4.2 L10.5 7.4" stroke="#F7C132" stroke-width="0.9" stroke-linecap="round" fill="none"/><rect x="7.050000000000001" y="7.4" width="2.9" height="4" fill="#B2A28E"/><rect x="6.8500000000000005" y="11.2" width="3.3" height="0.75" fill="#6A6A6E"/><rect x="6.7" y="3.4" width="3.6" height="4.3" rx="0.5" fill="url(#gb)"/><ellipse cx="8.5" cy="2" rx="1.65" ry="1.65" fill="#F2B826"/></g>
<text class="st" x="1498.4" y="1135.2" textLength="226" lengthAdjust="spacingAndGlyphs">Form friendships that are mutually</text>
<text class="st" x="1461" y="1151.2" textLength="125" lengthAdjust="spacingAndGlyphs">close and supportive</text>
<g transform="translate(1461.5 1180.3) scale(1.07)"><path d="M0.6 12 Q-0.2 11.2 0.6 10.4 L5.6 5 L7.2 6.6 L5.6 8.2 L5.9 8.9 L4.9 9.3 L5 10 L3.9 10 L2 12 Q1.2 12.6 0.6 12Z" fill="url(#gk)"/><circle cx="8.5" cy="3.8" r="3.7" fill="url(#gk)"/><path d="M5.6 2.2 Q7.4 -0.4 10.2 0.6 Q7.4 0.8 5.6 2.2Z" fill="#FFE270" opacity="0.8"/><circle cx="9.4" cy="2.8" r="0.9" fill="#FFFDF4"/></g>
<text class="st" x="1479.6" y="1193.2" textLength="212.8" lengthAdjust="spacingAndGlyphs">establish key aspects of identity</text>
<g transform="translate(1461.5 1222.3) scale(1.07)"><rect x="0.5" y="0.2" width="10.6" height="11.7" fill="url(#gc)"/><path d="M2.4 0.4V11.8M4.4 0.4V11.8M6.4 0.4V11.8M8.4 0.4V11.8M0.6 3H11M0.6 5.6H11M0.6 8.2H11" stroke="#EAF0F5" stroke-width="0.35"/><path d="M1 10.8 L3 8 L6.2 9 L8 5.4 L10.8 1" stroke="#DB3440" stroke-width="1.15" fill="none" stroke-linejoin="round" stroke-linecap="round"/></g>
<g transform="translate(1480.4 1222.3) scale(1.07)"><path d="M0.3 11.8 Q-0.3 0.4 6 0.3 Q12.3 0.4 11.7 11.8 Q9 12.2 6 12 Q3 12.2 0.3 11.8Z" fill="url(#gh)"/><path d="M3.2 1.6 Q6 0.3 8.8 1.6 Q6 1 3.2 1.6Z" fill="#FBE7A6"/><circle cx="6" cy="7.5" r="3.9" fill="url(#gf)"/><path d="M2.2 6.4 Q3 3 6.4 3.6 Q9.2 3.4 9.9 6.4 Q8 4.6 5.6 5 Q3.6 5 2.2 6.4Z" fill="#E59A1A"/><circle cx="4.2" cy="7.2" r="0.62" fill="#5E4426"/><circle cx="7.9" cy="7.2" r="0.62" fill="#5E4426"/><path d="M4.95 10.26 Q6 8.940000000000001 7.05 10.26 Q6 10.68 4.95 10.26Z" fill="#5A3A12"/></g>
<text class="st" x="1498.4" y="1235.2" textLength="218.6" lengthAdjust="spacingAndGlyphs">meet the demands of increasingly</text>
<text class="st" x="1461" y="1251.2" textLength="206.4" lengthAdjust="spacingAndGlyphs">mature roles and responsibilities</text>
<g transform="translate(1461.5 1280.3) scale(1.07)"><ellipse cx="6" cy="6.6" rx="4.9" ry="5.5" fill="url(#gf)"/><path d="M1.2 5.6 Q0.8 0.4 6 0.3 Q11.2 0.4 10.8 5.6 Q10 3.4 8.4 3.2 Q5.6 3.8 3.2 2.8 Q1.8 3.6 1.2 5.6Z" fill="#F3BC30"/><path d="M3.2 1.2 Q6 0 8.8 1.2 Q6 0.8 3.2 1.2Z" fill="#FBE08A"/><circle cx="4" cy="6.6" r="0.66" fill="#5E4426"/><circle cx="8" cy="6.6" r="0.66" fill="#5E4426"/><path d="M4.7 10.059999999999999 Q6 8.739999999999998 7.3 10.059999999999999 Q6 10.479999999999999 4.7 10.059999999999999Z" fill="#5A3A12"/></g>
<g transform="translate(1480.4 1280.3) scale(1.07)"><rect x="0" y="5.1" width="5.5" height="6.7" rx="0.6" fill="url(#gd)"/><rect x="6.6" y="5.1" width="5.4" height="6.7" rx="0.6" fill="url(#gl)"/><path d="M0.8 5.1 H5 V5.8 H0.8Z M7 5.1 H11.2 V5.8 H7Z" fill="#5D6670"/><rect x="0.8" y="0.3" width="4.5" height="4.9" rx="1.6" fill="url(#gf)"/><rect x="6.9" y="0.3" width="4.5" height="4.9" rx="1.6" fill="url(#gf)"/><path d="M0.9 1.8 Q1 0.2 3 0.2 Q5.2 0.2 5.2 1.8 Q3 1 0.9 1.8Z M7 1.8 Q7 0.2 9.2 0.2 Q11.3 0.2 11.3 1.8 Q9.2 1 7 1.8Z" fill="#E7A322"/><circle cx="5.9" cy="8.8" r="2.35" fill="#E9A41E"/><circle cx="5.9" cy="8.9" r="1.9" fill="url(#gf)"/></g>
<text class="st" x="1498.4" y="1293.2" textLength="239.2" lengthAdjust="spacingAndGlyphs">Renegotiate relationships with adults</text>
<text class="st" x="1461" y="1309.2" textLength="111.4" lengthAdjust="spacingAndGlyphs">in parenting roles</text>
<g transform="translate(1276.4 451.2) scale(1.07)"><rect x="0.5" y="0.2" width="10.6" height="11.7" fill="url(#gc)"/><path d="M2.4 0.4V11.8M4.4 0.4V11.8M6.4 0.4V11.8M8.4 0.4V11.8M0.6 3H11M0.6 5.6H11M0.6 8.2H11" stroke="#EAF0F5" stroke-width="0.35"/><path d="M1 10.8 L3 8 L6.2 9 L8 5.4 L10.8 1" stroke="#DB3440" stroke-width="1.15" fill="none" stroke-linejoin="round" stroke-linecap="round"/></g>
<text class="st" x="1295" y="464.2" textLength="177" lengthAdjust="spacingAndGlyphs">Eight stages of Personality</text>
<text class="st" x="1276" y="480.2" textLength="75.6" lengthAdjust="spacingAndGlyphs">Development</text>
<g transform="translate(120.8 577.4) scale(1.07)"><circle cx="0.7" cy="10.6" r="0.7" fill="#BFC4CA"/><circle cx="2.4" cy="9" r="1.3" fill="#C9CED3"/><path d="M1 5.2 Q0 2.6 2.6 1.8 Q3.6 -0.2 6 0.7 Q8.4 -0.4 9.8 1.6 Q12.4 2.6 11.4 5.4 Q12 8.2 9.2 8.6 Q7.4 10.4 5.4 9.2 Q2.6 10 1.8 7.8 Q0.4 6.8 1 5.2Z" fill="#B4BAC1"/><path d="M1.6 4.8 Q0.8 2.8 3 2.2 Q4 0.4 6.1 1.2 Q8.2 0.2 9.4 2 Q11.6 2.8 10.8 5 Q11.2 7.2 9 7.6 Q7.4 9 5.6 8 Q3.2 8.6 2.4 6.8 Q1.2 6 1.6 4.8Z" fill="url(#gw)"/></g>
<text class="st" x="138.6" y="590.2" textLength="229.4" lengthAdjust="spacingAndGlyphs">a self-belief of what the individual</text>
<text class="st" x="120.4" y="606.2" textLength="198.2" lengthAdjust="spacingAndGlyphs">thinks and feels about himself</text>
<text class="st" x="79" y="802.2" textLength="216" lengthAdjust="spacingAndGlyphs">the negotion of self-identity,in a</text>
<text class="st" x="79" y="818.2" textLength="223" lengthAdjust="spacingAndGlyphs">sense that there is confusion over</text>
<text class="st" x="79" y="834.2" textLength="116" lengthAdjust="spacingAndGlyphs">one&#x27;s self-concept.</text>
</g>
<g id="nodes">
<rect x="1074.7" y="79.7" width="135.6" height="55.6" rx="27.8" fill="#FEE7A1"/>
<rect x="1079" y="84" width="127" height="47" rx="23.5" fill="#A5423B"/>
<text class="mt" x="1090.6" y="114" textLength="103" lengthAdjust="spacingAndGlyphs">adolescence</text>
<rect x="1074.7" y="438.7" width="143.6" height="55.6" rx="27.8" fill="#FEE7A1"/>
<rect x="1079" y="443" width="135" height="47" rx="23.5" fill="#C6CBCE"/>
<text class="mt" x="1091" y="473" textLength="111" lengthAdjust="spacingAndGlyphs">Erik Erikson</text>
<rect x="1072.7" y="995.7" width="331.2" height="79" rx="34.3" fill="#FEE7A1"/>
<rect x="1077" y="1000" width="322.6" height="70.4" rx="30" fill="#B26A8E"/>
<text class="mt" x="1088.4" y="1030" textLength="298.6" lengthAdjust="spacingAndGlyphs">Skills and tasks appropriate for</text>
<text class="mt" x="1088.4" y="1054" textLength="255.6" lengthAdjust="spacingAndGlyphs">Middle and late adolescence</text>
<rect x="359.7" y="784.7" width="193.6" height="55.6" rx="27.8" fill="#FEE7A1"/>
<rect x="364" y="789" width="185" height="47" rx="23.5" fill="#FEE082"/>
<g transform="translate(375.9 800.9) scale(1.45)"><circle cx="6" cy="6" r="5.8" fill="#F09A18"/><circle cx="6" cy="5.9" r="5.5" fill="url(#gs)"/><ellipse cx="6" cy="1.7" rx="2.7" ry="1.1" fill="#FFFFFF" opacity="0.8"/><ellipse cx="4.1" cy="4.85" rx="0.68" ry="1.05" fill="#6A4508"/><ellipse cx="7.85" cy="4.85" rx="0.68" ry="1.05" fill="#6A4508"/></g>
<text class="mt" x="402.2" y="818.2" textLength="135" lengthAdjust="spacingAndGlyphs">Role Confusion</text>
<rect x="428" y="697" width="38" height="32" rx="13.5" ry="16" fill="#8CCB48"/>
<text class="vs" x="438" y="718" textLength="17.3" lengthAdjust="spacingAndGlyphs">vs.</text>
</g>
<g id="central">
<rect x="405" y="604" width="835.9" height="68.3" rx="33.8" fill="#FFFFFF" stroke="#FAC52B" stroke-width="4"/>
<text class="ct" x="425.6" y="648.8" textLength="799.4" lengthAdjust="spacingAndGlyphs">Development stages in middle adolescence and late adolescence</text>
</g>
<g id="identity">
<rect x="425.7" y="564.7" width="132.8" height="55.6" rx="27.8" fill="#FEE7A1"/>
<rect x="430" y="569" width="124.2" height="47" rx="23.5" fill="#33B8FF"/>
<g transform="translate(442.6 581) scale(1.42)"><path d="M1.4 12 Q1.2 8.8 4.4 8.6 L6 9.6 L7.6 8.6 Q10.8 8.8 10.6 12Z" fill="#C8CDD2"/><path d="M4.6 8.4 H7.4 V9.4 Q6 10.4 4.6 9.4Z" fill="#EFB02A"/><ellipse cx="6" cy="5.2" rx="3.6" ry="4" fill="url(#gf)"/><path d="M2.3 4.8 Q1.9 0.4 6 0.3 Q10.1 0.4 9.7 4.8 Q8.8 2.8 6.4 3 Q4 2.6 2.3 4.8Z" fill="#F6C23A"/><path d="M3.8 1.2 Q6 0.2 8.2 1.2 Q6 0.8 3.8 1.2Z" fill="#FCE7A0"/><circle cx="4.7" cy="5.4" r="0.45" fill="#5E4426"/><circle cx="7.3" cy="5.4" r="0.45" fill="#5E4426"/><path d="M5.2 7.4 Q6 7.8 6.8 7.4" stroke="#8A5A1A" stroke-width="0.4" fill="none"/></g>
<text class="mt" x="468.8" y="598.8" textLength="73.2" lengthAdjust="spacingAndGlyphs">identity</text>
</g>
</svg>
</body>
</html>
